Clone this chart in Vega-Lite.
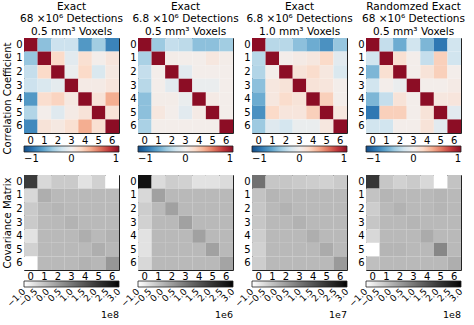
{
  "$schema": "https://vega.github.io/schema/vega-lite/v6.json",
  "padding": {"left": 2, "right": 4, "top": 1, "bottom": 1},
  "background": "white",
  "config": {
    "font": "DejaVu Sans",
    "view": {"stroke": "#222222", "strokeWidth": 1},
    "axis": {"domain": false, "ticks": false, "labelPadding": 2, "labelFontSize": 10, "labelColor": "#000", "labelFont": "DejaVu Sans", "titleFont": "DejaVu Sans", "titleFontSize": 10, "titleFontWeight": "normal", "titleColor": "#000", "titlePadding": 3},
    "title": {"font": "DejaVu Sans", "fontSize": 10.5, "fontWeight": "normal", "lineHeight": 12.5, "offset": 1, "frame": "group", "color": "#000"},
    "legend": {"labelFont": "DejaVu Sans", "labelFontSize": 10, "labelColor": "#000", "titleFont": "DejaVu Sans", "titleFontSize": 9.5, "titleFontWeight": "normal", "titleColor": "#000"}
  },
  "datasets": {
    "m": [
      {"p":1,"r":0,"c":0,"corr":1,"cov":2.0},{"p":1,"r":0,"c":1,"corr":-0.45,"cov":-0.45},{"p":1,"r":0,"c":2,"corr":-0.22,"cov":-0.25},{"p":1,"r":0,"c":3,"corr":-0.22,"cov":-0.25},{"p":1,"r":0,"c":4,"corr":-0.65,"cov":-0.6},{"p":1,"r":0,"c":5,"corr":-0.38,"cov":-0.35},{"p":1,"r":0,"c":6,"corr":-0.75,"cov":-1.0},
      {"p":1,"r":1,"c":0,"corr":-0.42,"cov":-0.45},{"p":1,"r":1,"c":1,"corr":1,"cov":0.15},{"p":1,"r":1,"c":2,"corr":0.2,"cov":0.0},{"p":1,"r":1,"c":3,"corr":-0.1,"cov":-0.02},{"p":1,"r":1,"c":4,"corr":0.15,"cov":0.0},{"p":1,"r":1,"c":5,"corr":0.02,"cov":0.0},{"p":1,"r":1,"c":6,"corr":0.1,"cov":0.0},
      {"p":1,"r":2,"c":0,"corr":-0.25,"cov":-0.25},{"p":1,"r":2,"c":1,"corr":0.2,"cov":0.0},{"p":1,"r":2,"c":2,"corr":1,"cov":0.05},{"p":1,"r":2,"c":3,"corr":-0.05,"cov":0.0},{"p":1,"r":2,"c":4,"corr":0.2,"cov":0.0},{"p":1,"r":2,"c":5,"corr":-0.15,"cov":0.0},{"p":1,"r":2,"c":6,"corr":0.07,"cov":0.0},
      {"p":1,"r":3,"c":0,"corr":-0.22,"cov":-0.25},{"p":1,"r":3,"c":1,"corr":-0.15,"cov":-0.02},{"p":1,"r":3,"c":2,"corr":-0.08,"cov":0.0},{"p":1,"r":3,"c":3,"corr":1,"cov":0.08},{"p":1,"r":3,"c":4,"corr":0.05,"cov":0.0},{"p":1,"r":3,"c":5,"corr":0.05,"cov":0.0},{"p":1,"r":3,"c":6,"corr":0.1,"cov":0.0},
      {"p":1,"r":4,"c":0,"corr":-0.65,"cov":-0.6},{"p":1,"r":4,"c":1,"corr":0.17,"cov":0.0},{"p":1,"r":4,"c":2,"corr":0.23,"cov":0.0},{"p":1,"r":4,"c":3,"corr":0.07,"cov":0.0},{"p":1,"r":4,"c":4,"corr":1,"cov":0.15},{"p":1,"r":4,"c":5,"corr":0.12,"cov":0.0},{"p":1,"r":4,"c":6,"corr":0.4,"cov":0.1},
      {"p":1,"r":5,"c":0,"corr":-0.32,"cov":-0.35},{"p":1,"r":5,"c":1,"corr":0.02,"cov":0.0},{"p":1,"r":5,"c":2,"corr":-0.12,"cov":0.0},{"p":1,"r":5,"c":3,"corr":0.05,"cov":0.0},{"p":1,"r":5,"c":4,"corr":0.12,"cov":0.0},{"p":1,"r":5,"c":5,"corr":1,"cov":0.15},{"p":1,"r":5,"c":6,"corr":0.12,"cov":0.02},
      {"p":1,"r":6,"c":0,"corr":-0.72,"cov":-1.0},{"p":1,"r":6,"c":1,"corr":0.12,"cov":0.0},{"p":1,"r":6,"c":2,"corr":0.07,"cov":0.0},{"p":1,"r":6,"c":3,"corr":0.15,"cov":0.0},{"p":1,"r":6,"c":4,"corr":0.4,"cov":0.1},{"p":1,"r":6,"c":5,"corr":0.15,"cov":0.02},{"p":1,"r":6,"c":6,"corr":1,"cov":0.5},

      {"p":2,"r":0,"c":0,"corr":1,"cov":2.8},{"p":2,"r":0,"c":1,"corr":-0.4,"cov":-0.5},{"p":2,"r":0,"c":2,"corr":-0.25,"cov":-0.3},{"p":2,"r":0,"c":3,"corr":-0.28,"cov":-0.35},{"p":2,"r":0,"c":4,"corr":-0.45,"cov":-0.6},{"p":2,"r":0,"c":5,"corr":-0.45,"cov":-0.6},{"p":2,"r":0,"c":6,"corr":-0.38,"cov":-0.5},
      {"p":2,"r":1,"c":0,"corr":-0.35,"cov":-0.45},{"p":2,"r":1,"c":1,"corr":1,"cov":0.35},{"p":2,"r":1,"c":2,"corr":0.03,"cov":0.0},{"p":2,"r":1,"c":3,"corr":0.02,"cov":0.0},{"p":2,"r":1,"c":4,"corr":0.02,"cov":0.0},{"p":2,"r":1,"c":5,"corr":0.08,"cov":0.0},{"p":2,"r":1,"c":6,"corr":0.03,"cov":0.0},
      {"p":2,"r":2,"c":0,"corr":-0.25,"cov":-0.3},{"p":2,"r":2,"c":1,"corr":0.02,"cov":0.0},{"p":2,"r":2,"c":2,"corr":1,"cov":0.35},{"p":2,"r":2,"c":3,"corr":-0.1,"cov":0.0},{"p":2,"r":2,"c":4,"corr":0.02,"cov":0.0},{"p":2,"r":2,"c":5,"corr":0.02,"cov":0.0},{"p":2,"r":2,"c":6,"corr":0.02,"cov":0.0},
      {"p":2,"r":3,"c":0,"corr":-0.3,"cov":-0.35},{"p":2,"r":3,"c":1,"corr":0.02,"cov":0.0},{"p":2,"r":3,"c":2,"corr":-0.1,"cov":0.0},{"p":2,"r":3,"c":3,"corr":1,"cov":0.35},{"p":2,"r":3,"c":4,"corr":-0.05,"cov":0.0},{"p":2,"r":3,"c":5,"corr":-0.05,"cov":0.0},{"p":2,"r":3,"c":6,"corr":0.02,"cov":0.0},
      {"p":2,"r":4,"c":0,"corr":-0.45,"cov":-0.6},{"p":2,"r":4,"c":1,"corr":0.03,"cov":0.0},{"p":2,"r":4,"c":2,"corr":0.03,"cov":0.0},{"p":2,"r":4,"c":3,"corr":-0.05,"cov":0.0},{"p":2,"r":4,"c":4,"corr":1,"cov":0.35},{"p":2,"r":4,"c":5,"corr":0.05,"cov":0.0},{"p":2,"r":4,"c":6,"corr":0.02,"cov":0.0},
      {"p":2,"r":5,"c":0,"corr":-0.45,"cov":-0.6},{"p":2,"r":5,"c":1,"corr":0.08,"cov":0.0},{"p":2,"r":5,"c":2,"corr":0.02,"cov":0.0},{"p":2,"r":5,"c":3,"corr":-0.1,"cov":0.0},{"p":2,"r":5,"c":4,"corr":0.05,"cov":0.0},{"p":2,"r":5,"c":5,"corr":1,"cov":0.35},{"p":2,"r":5,"c":6,"corr":0.02,"cov":0.0},
      {"p":2,"r":6,"c":0,"corr":-0.35,"cov":-0.45},{"p":2,"r":6,"c":1,"corr":0.02,"cov":0.0},{"p":2,"r":6,"c":2,"corr":0.02,"cov":0.0},{"p":2,"r":6,"c":3,"corr":0.02,"cov":0.0},{"p":2,"r":6,"c":4,"corr":0.02,"cov":0.0},{"p":2,"r":6,"c":5,"corr":0.02,"cov":0.0},{"p":2,"r":6,"c":6,"corr":1,"cov":0.3},

      {"p":3,"r":0,"c":0,"corr":1,"cov":1.1},{"p":3,"r":0,"c":1,"corr":-0.3,"cov":-0.2},{"p":3,"r":0,"c":2,"corr":-0.3,"cov":-0.2},{"p":3,"r":0,"c":3,"corr":-0.45,"cov":-0.25},{"p":3,"r":0,"c":4,"corr":-0.55,"cov":-0.3},{"p":3,"r":0,"c":5,"corr":-0.68,"cov":-0.35},{"p":3,"r":0,"c":6,"corr":-0.42,"cov":-0.25},
      {"p":3,"r":1,"c":0,"corr":-0.3,"cov":-0.15},{"p":3,"r":1,"c":1,"corr":1,"cov":0.05},{"p":3,"r":1,"c":2,"corr":0.02,"cov":0.0},{"p":3,"r":1,"c":3,"corr":0.05,"cov":0.0},{"p":3,"r":1,"c":4,"corr":0.08,"cov":0.0},{"p":3,"r":1,"c":5,"corr":0.2,"cov":0.0},{"p":3,"r":1,"c":6,"corr":-0.1,"cov":0.0},
      {"p":3,"r":2,"c":0,"corr":-0.32,"cov":-0.2},{"p":3,"r":2,"c":1,"corr":0.02,"cov":0.0},{"p":3,"r":2,"c":2,"corr":1,"cov":0.1},{"p":3,"r":2,"c":3,"corr":0.12,"cov":0.0},{"p":3,"r":2,"c":4,"corr":0.18,"cov":0.0},{"p":3,"r":2,"c":5,"corr":0.08,"cov":0.0},{"p":3,"r":2,"c":6,"corr":-0.15,"cov":0.0},
      {"p":3,"r":3,"c":0,"corr":-0.45,"cov":-0.2},{"p":3,"r":3,"c":1,"corr":0.08,"cov":0.0},{"p":3,"r":3,"c":2,"corr":0.12,"cov":0.0},{"p":3,"r":3,"c":3,"corr":1,"cov":0.1},{"p":3,"r":3,"c":4,"corr":0.12,"cov":0.0},{"p":3,"r":3,"c":5,"corr":0.1,"cov":0.0},{"p":3,"r":3,"c":6,"corr":0.02,"cov":0.0},
      {"p":3,"r":4,"c":0,"corr":-0.55,"cov":-0.3},{"p":3,"r":4,"c":1,"corr":0.08,"cov":0.0},{"p":3,"r":4,"c":2,"corr":0.18,"cov":0.0},{"p":3,"r":4,"c":3,"corr":0.12,"cov":0.0},{"p":3,"r":4,"c":4,"corr":1,"cov":0.15},{"p":3,"r":4,"c":5,"corr":0.25,"cov":0.0},{"p":3,"r":4,"c":6,"corr":0.02,"cov":0.0},
      {"p":3,"r":5,"c":0,"corr":-0.68,"cov":-0.35},{"p":3,"r":5,"c":1,"corr":0.2,"cov":0.0},{"p":3,"r":5,"c":2,"corr":0.1,"cov":0.0},{"p":3,"r":5,"c":3,"corr":0.1,"cov":0.0},{"p":3,"r":5,"c":4,"corr":0.25,"cov":0.0},{"p":3,"r":5,"c":5,"corr":1,"cov":0.2},{"p":3,"r":5,"c":6,"corr":0.08,"cov":0.0},
      {"p":3,"r":6,"c":0,"corr":-0.4,"cov":-0.3},{"p":3,"r":6,"c":1,"corr":-0.12,"cov":0.0},{"p":3,"r":6,"c":2,"corr":-0.18,"cov":0.0},{"p":3,"r":6,"c":3,"corr":-0.05,"cov":0.0},{"p":3,"r":6,"c":4,"corr":-0.05,"cov":0.0},{"p":3,"r":6,"c":5,"corr":0.08,"cov":0.0},{"p":3,"r":6,"c":6,"corr":1,"cov":0.45},

      {"p":4,"r":0,"c":0,"corr":1,"cov":2.1},{"p":4,"r":0,"c":1,"corr":-0.25,"cov":-0.2},{"p":4,"r":0,"c":2,"corr":-0.55,"cov":-0.35},{"p":4,"r":0,"c":3,"corr":-0.2,"cov":-0.25},{"p":4,"r":0,"c":4,"corr":-0.5,"cov":-0.45},{"p":4,"r":0,"c":5,"corr":-0.8,"cov":-1.0},{"p":4,"r":0,"c":6,"corr":-0.2,"cov":-0.15},
      {"p":4,"r":1,"c":0,"corr":-0.2,"cov":-0.15},{"p":4,"r":1,"c":1,"corr":1,"cov":0.05},{"p":4,"r":1,"c":2,"corr":0.15,"cov":0.0},{"p":4,"r":1,"c":3,"corr":0.02,"cov":0.0},{"p":4,"r":1,"c":4,"corr":-0.25,"cov":0.0},{"p":4,"r":1,"c":5,"corr":0.25,"cov":0.05},{"p":4,"r":1,"c":6,"corr":-0.2,"cov":0.0},
      {"p":4,"r":2,"c":0,"corr":-0.5,"cov":-0.3},{"p":4,"r":2,"c":1,"corr":0.15,"cov":0.0},{"p":4,"r":2,"c":2,"corr":1,"cov":0.1},{"p":4,"r":2,"c":3,"corr":0.02,"cov":0.0},{"p":4,"r":2,"c":4,"corr":0.12,"cov":0.0},{"p":4,"r":2,"c":5,"corr":0.25,"cov":0.05},{"p":4,"r":2,"c":6,"corr":0.02,"cov":0.0},
      {"p":4,"r":3,"c":0,"corr":-0.2,"cov":-0.2},{"p":4,"r":3,"c":1,"corr":0.02,"cov":0.0},{"p":4,"r":3,"c":2,"corr":-0.05,"cov":0.0},{"p":4,"r":3,"c":3,"corr":1,"cov":0.05},{"p":4,"r":3,"c":4,"corr":0.02,"cov":0.0},{"p":4,"r":3,"c":5,"corr":0.02,"cov":0.0},{"p":4,"r":3,"c":6,"corr":0.05,"cov":0.0},
      {"p":4,"r":4,"c":0,"corr":-0.5,"cov":-0.45},{"p":4,"r":4,"c":1,"corr":-0.25,"cov":0.0},{"p":4,"r":4,"c":2,"corr":0.12,"cov":0.0},{"p":4,"r":4,"c":3,"corr":0.02,"cov":0.0},{"p":4,"r":4,"c":4,"corr":1,"cov":0.2},{"p":4,"r":4,"c":5,"corr":0.08,"cov":0.0},{"p":4,"r":4,"c":6,"corr":0.1,"cov":0.0},
      {"p":4,"r":5,"c":0,"corr":-0.8,"cov":-1.0},{"p":4,"r":5,"c":1,"corr":0.25,"cov":0.05},{"p":4,"r":5,"c":2,"corr":0.25,"cov":0.05},{"p":4,"r":5,"c":3,"corr":0.02,"cov":0.0},{"p":4,"r":5,"c":4,"corr":0.12,"cov":0.0},{"p":4,"r":5,"c":5,"corr":1,"cov":0.75},{"p":4,"r":5,"c":6,"corr":-0.1,"cov":0.0},
      {"p":4,"r":6,"c":0,"corr":-0.2,"cov":-0.1},{"p":4,"r":6,"c":1,"corr":-0.2,"cov":0.0},{"p":4,"r":6,"c":2,"corr":0.02,"cov":0.0},{"p":4,"r":6,"c":3,"corr":0.02,"cov":0.0},{"p":4,"r":6,"c":4,"corr":0.12,"cov":0.0},{"p":4,"r":6,"c":5,"corr":-0.1,"cov":0.0},{"p":4,"r":6,"c":6,"corr":1,"cov":0.15}
    ]
  },
  "bounds": "flush",
  "columns": 4,
  "spacing": {"row": 42, "column": 19},
  "resolve": {"scale": {"color": "independent"}},
  "concat": [
    {
      "data": {"name": "m"}, "transform": [{"filter": "datum.p == 1"}],
      "title": {"text": ["Exact", "68 ×10⁶ Detections", "0.5 mm³ Voxels"]},
      "width": 95, "height": 95, "mark": "rect",
      "encoding": {
        "x": {"field": "c", "type": "ordinal", "axis": {"title": null, "labelAngle": 0}},
        "y": {"field": "r", "type": "ordinal", "axis": {"title": "Correlation Coefficient", "titleY": 60}},
        "color": {"field": "corr", "type": "quantitative", "scale": {"domain": [-1, 1], "scheme": "redblue", "reverse": true},
          "legend": {"orient": "bottom", "direction": "horizontal", "title": null, "gradientLength": 95, "gradientThickness": 6, "values": [-1, 0, 1], "labelAlign": "center", "offset": 1, "padding": 0, "gradientStrokeColor": "#222", "gradientStrokeWidth": 0.8}}
      }
    },
    {
      "data": {"name": "m"}, "transform": [{"filter": "datum.p == 2"}],
      "title": {"text": ["Exact", "6.8 ×10⁶ Detections", "0.5 mm³ Voxels"]},
      "width": 95, "height": 95, "mark": "rect",
      "encoding": {
        "x": {"field": "c", "type": "ordinal", "axis": {"title": null, "labelAngle": 0}},
        "y": {"field": "r", "type": "ordinal", "axis": {"title": null}},
        "color": {"field": "corr", "type": "quantitative", "scale": {"domain": [-1, 1], "scheme": "redblue", "reverse": true},
          "legend": {"orient": "bottom", "direction": "horizontal", "title": null, "gradientLength": 95, "gradientThickness": 6, "values": [-1, 0, 1], "labelAlign": "center", "offset": 1, "padding": 0, "gradientStrokeColor": "#222", "gradientStrokeWidth": 0.8}}
      }
    },
    {
      "data": {"name": "m"}, "transform": [{"filter": "datum.p == 3"}],
      "title": {"text": ["Exact", "6.8 ×10⁶ Detections", "1.0 mm³ Voxels"]},
      "width": 95, "height": 95, "mark": "rect",
      "encoding": {
        "x": {"field": "c", "type": "ordinal", "axis": {"title": null, "labelAngle": 0}},
        "y": {"field": "r", "type": "ordinal", "axis": {"title": null}},
        "color": {"field": "corr", "type": "quantitative", "scale": {"domain": [-1, 1], "scheme": "redblue", "reverse": true},
          "legend": {"orient": "bottom", "direction": "horizontal", "title": null, "gradientLength": 95, "gradientThickness": 6, "values": [-1, 0, 1], "labelAlign": "center", "offset": 1, "padding": 0, "gradientStrokeColor": "#222", "gradientStrokeWidth": 0.8}}
      }
    },
    {
      "data": {"name": "m"}, "transform": [{"filter": "datum.p == 4"}],
      "title": {"text": ["Randomzed Exact", "68 ×10⁶ Detections", "0.5 mm³ Voxels"]},
      "width": 95, "height": 95, "mark": "rect",
      "encoding": {
        "x": {"field": "c", "type": "ordinal", "axis": {"title": null, "labelAngle": 0}},
        "y": {"field": "r", "type": "ordinal", "axis": {"title": null}},
        "color": {"field": "corr", "type": "quantitative", "scale": {"domain": [-1, 1], "scheme": "redblue", "reverse": true},
          "legend": {"orient": "bottom", "direction": "horizontal", "title": null, "gradientLength": 95, "gradientThickness": 6, "values": [-1, 0, 1], "labelAlign": "center", "offset": 1, "padding": 0, "gradientStrokeColor": "#222", "gradientStrokeWidth": 0.8}}
      }
    },
    {
      "data": {"name": "m"}, "transform": [{"filter": "datum.p == 1"}],
      "width": 95, "height": 95, "mark": "rect",
      "encoding": {
        "x": {"field": "c", "type": "ordinal", "axis": {"title": null, "labelAngle": 0, "labelPadding": 1}},
        "y": {"field": "r", "type": "ordinal", "axis": {"title": "Covariance Matrix"}},
        "color": {"field": "cov", "type": "quantitative", "scale": {"domain": [-1, 3], "range": ["#ffffff", "#000000"]},
          "legend": {"orient": "bottom", "direction": "horizontal", "title": "1e8", "titleOrient": "bottom", "titleAnchor": "end", "titlePadding": 1, "labelFontSize": 9, "labelOffset": 3, "gradientLength": 95, "gradientThickness": 6, "values": [-1, -0.5, 0, 0.5, 1, 1.5, 2, 2.5, 3], "format": ".1f", "offset": 0, "padding": 0, "labelOverlap": false, "gradientStrokeColor": "#222", "gradientStrokeWidth": 0.8,
            "encode": {"labels": {"update": {"angle": {"value": -45}, "align": {"value": "right"}, "baseline": {"value": "middle"}}}}}}
      }
    },
    {
      "data": {"name": "m"}, "transform": [{"filter": "datum.p == 2"}],
      "width": 95, "height": 95, "mark": "rect",
      "encoding": {
        "x": {"field": "c", "type": "ordinal", "axis": {"title": null, "labelAngle": 0, "labelPadding": 1}},
        "y": {"field": "r", "type": "ordinal", "axis": {"title": null}},
        "color": {"field": "cov", "type": "quantitative", "scale": {"domain": [-1, 3], "range": ["#ffffff", "#000000"]},
          "legend": {"orient": "bottom", "direction": "horizontal", "title": "1e6", "titleOrient": "bottom", "titleAnchor": "end", "titlePadding": 1, "labelFontSize": 9, "labelOffset": 3, "gradientLength": 95, "gradientThickness": 6, "values": [-1, -0.5, 0, 0.5, 1, 1.5, 2, 2.5, 3], "format": ".1f", "offset": 0, "padding": 0, "labelOverlap": false, "gradientStrokeColor": "#222", "gradientStrokeWidth": 0.8,
            "encode": {"labels": {"update": {"angle": {"value": -45}, "align": {"value": "right"}, "baseline": {"value": "middle"}}}}}}
      }
    },
    {
      "data": {"name": "m"}, "transform": [{"filter": "datum.p == 3"}],
      "width": 95, "height": 95, "mark": "rect",
      "encoding": {
        "x": {"field": "c", "type": "ordinal", "axis": {"title": null, "labelAngle": 0, "labelPadding": 1}},
        "y": {"field": "r", "type": "ordinal", "axis": {"title": null}},
        "color": {"field": "cov", "type": "quantitative", "scale": {"domain": [-1, 3], "range": ["#ffffff", "#000000"]},
          "legend": {"orient": "bottom", "direction": "horizontal", "title": "1e7", "titleOrient": "bottom", "titleAnchor": "end", "titlePadding": 1, "labelFontSize": 9, "labelOffset": 3, "gradientLength": 95, "gradientThickness": 6, "values": [-1, -0.5, 0, 0.5, 1, 1.5, 2, 2.5, 3], "format": ".1f", "offset": 0, "padding": 0, "labelOverlap": false, "gradientStrokeColor": "#222", "gradientStrokeWidth": 0.8,
            "encode": {"labels": {"update": {"angle": {"value": -45}, "align": {"value": "right"}, "baseline": {"value": "middle"}}}}}}
      }
    },
    {
      "data": {"name": "m"}, "transform": [{"filter": "datum.p == 4"}],
      "width": 95, "height": 95, "mark": "rect",
      "encoding": {
        "x": {"field": "c", "type": "ordinal", "axis": {"title": null, "labelAngle": 0, "labelPadding": 1}},
        "y": {"field": "r", "type": "ordinal", "axis": {"title": null}},
        "color": {"field": "cov", "type": "quantitative", "scale": {"domain": [-1, 3], "range": ["#ffffff", "#000000"]},
          "legend": {"orient": "bottom", "direction": "horizontal", "title": "1e8", "titleOrient": "bottom", "titleAnchor": "end", "titlePadding": 1, "labelFontSize": 9, "labelOffset": 3, "gradientLength": 95, "gradientThickness": 6, "values": [-1, -0.5, 0, 0.5, 1, 1.5, 2, 2.5, 3], "format": ".1f", "offset": 0, "padding": 0, "labelOverlap": false, "gradientStrokeColor": "#222", "gradientStrokeWidth": 0.8,
            "encode": {"labels": {"update": {"angle": {"value": -45}, "align": {"value": "right"}, "baseline": {"value": "middle"}}}}}}
      }
    }
  ]
}
